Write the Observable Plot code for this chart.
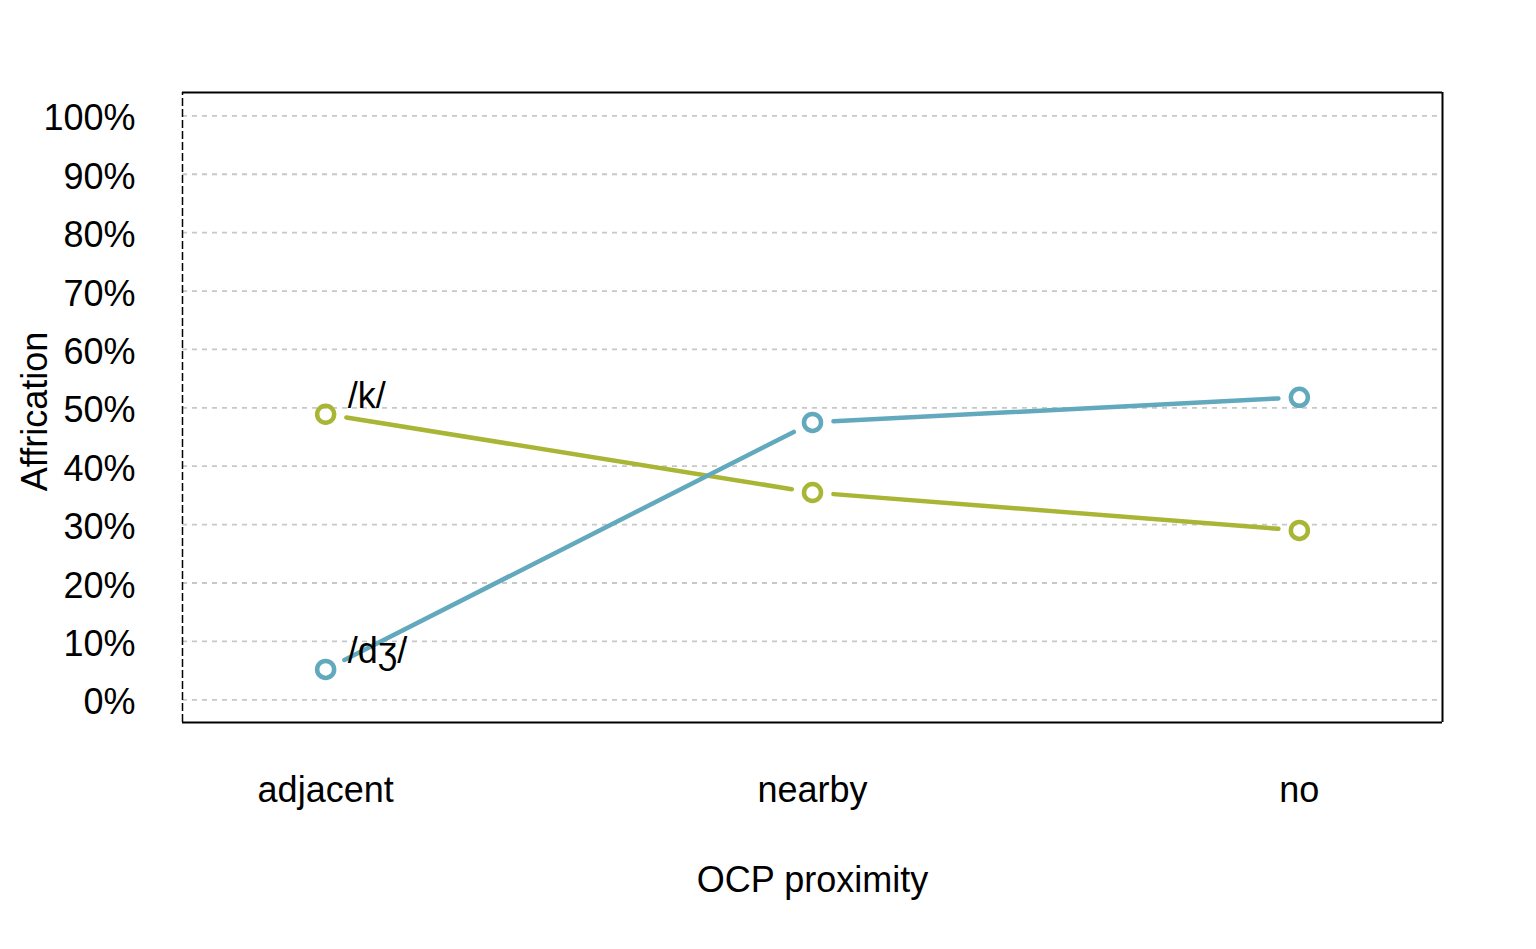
<!DOCTYPE html>
<html>
<head>
<meta charset="utf-8">
<script src="https://cdn.jsdelivr.net/npm/d3@7"></script>
<script src="https://cdn.jsdelivr.net/npm/@observablehq/plot@0.6"></script>
<style>
  html, body { margin: 0; padding: 0; background: white; }
  svg { display: block; }
</style>
</head>
<body>
<div id="chart"></div>
<script>
// ---- data ----
const categories = ["adjacent", "nearby", "no"];
const seriesNames = ["/k/", "/dʒ/"];
const kValues = [0.489, 0.355, 0.290];
const djValues = [0.052, 0.475, 0.518];
const yTicks = [0, 0.1, 0.2, 0.3, 0.4, 0.5, 0.6, 0.7, 0.8, 0.9, 1.0];
const xLabel = "OCP proximity";
const yLabel = "Affrication";

// ---- build table ----
const seriesValues = [kValues, djValues];
const points = [];
const segments = [];
seriesNames.forEach((s, si) => {
  const vals = seriesValues[si];
  vals.forEach((v, i) => {
    points.push({s, i, v});
    if (i < vals.length - 1) segments.push({s, i1: i, v1: v, i2: i + 1, v2: vals[i + 1]});
  });
});
const labelRows = seriesNames.map((s, si) => ({s, i: 0, v: seriesValues[si][0]}));

const xDom = [-0.294, categories.length - 1 + 0.294];
const yDom = [-0.0389, 1.040];
const font = "'Liberation Sans', Arial, Helvetica, sans-serif";

const chart = Plot.plot({
  width: 1536,
  height: 949,
  marginLeft: 182,
  marginRight: 94,
  marginTop: 92,
  marginBottom: 227,
  style: {fontFamily: font, fontSize: "36px", background: "white", color: "black"},
  x: {type: "linear", domain: xDom},
  y: {domain: yDom},
  color: {domain: seriesNames, range: ["#a9b534", "#62a9bd"]},
  marks: [
    Plot.ruleY(yTicks, {stroke: "#c8c8c8", strokeWidth: 1.8, strokeDasharray: "5,5"}),
    Plot.ruleX([xDom[0]], {y1: yDom[0], y2: yDom[1], stroke: "black", strokeWidth: 1.5, strokeDasharray: "8,3"}),
    Plot.ruleY([yDom[1]], {stroke: "black", strokeWidth: 2}),
    Plot.ruleY([yDom[0]], {stroke: "black", strokeWidth: 2}),
    Plot.ruleX([xDom[1]], {stroke: "black", strokeWidth: 2}),
    Plot.axisY(yTicks, {tickSize: 0, tickPadding: 47, dy: 3, tickFormat: d => Math.round(d * 100) + "%", fontSize: 36, label: null}),
    Plot.axisX(d3.range(categories.length), {tickSize: 0, tickPadding: 54, tickFormat: i => categories[i], fontSize: 36, label: null}),
    Plot.arrow(segments, {
      x1: "i1", y1: "v1", x2: "i2", y2: "v2",
      stroke: "s", strokeWidth: 4.5, headLength: 0,
      insetStart: 21, insetEnd: 21
    }),
    Plot.dot(points, {x: "i", y: "v", stroke: "s", r: 8.5, strokeWidth: 4.5, fill: "none"}),
    Plot.text(labelRows, {x: "i", y: "v", text: "s", dx: 22, dy: -18, textAnchor: "start", fontSize: 36, fill: "black"}),
    Plot.text([xLabel], {text: d => d, frameAnchor: "bottom", lineAnchor: "middle", textAnchor: "middle", dy: 158, fontSize: 36, fill: "black"}),
    Plot.text([yLabel], {text: d => d, frameAnchor: "left", textAnchor: "middle", lineAnchor: "middle", dx: -147, dy: 4, rotate: -90, fontSize: 36, fill: "black"})
  ]
});
document.getElementById("chart").appendChild(chart);
</script>
</body>
</html>
